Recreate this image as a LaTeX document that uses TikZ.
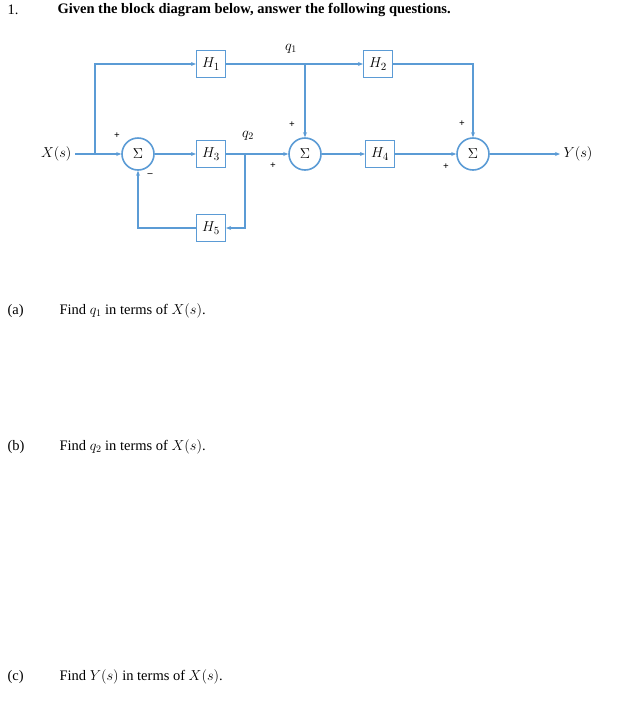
\documentclass[tikz,border=0pt]{standalone}
\usepackage{fontspec}
\setmainfont{Liberation Serif}
\usetikzlibrary{arrows.meta}
\definecolor{bl}{RGB}{91,155,213}
\begin{document}
\begin{tikzpicture}[x=1pt,y=-1pt,
  blk/.style={draw=bl,line width=1.2pt,minimum width=29pt,minimum height=27pt,inner sep=0pt,font=\fontsize{15}{16}\selectfont},
  sm/.style={draw=bl,circle,line width=1.6pt,minimum size=32pt,inner sep=0pt,font=\fontsize{15}{16}\selectfont},
  ln/.style={bl,line width=1.2pt},
  ar/.style={ln,-{Stealth[length=5pt,width=4pt]}},
  sg/.style={font=\bfseries\fontsize{10}{10}\selectfont},
  txt/.style={font=\fontsize{14.5}{16}\selectfont,anchor=west}]
\useasboundingbox (0,0) rectangle (621,721);
\node[txt] (n1) at (4,10) {1.};
\node[txt,font=\bfseries\fontsize{14.5}{16}\selectfont] (ti) at (54,10) {Given the block diagram below, answer the following questions.};
\node[blk] (H1) at (211,64) {$H_1$};
\node[blk] (H2) at (378,64) {$H_2$};
\node[blk] (H3) at (211,154) {$H_3$};
\node[blk] (H4) at (380,154) {$H_4$};
\node[blk] (H5) at (211,228) {$H_5$};
\node[sm] (S1) at (138,154) {$\Sigma$};
\node[sm] (S2) at (305,154) {$\Sigma$};
\node[sm] (S3) at (473,154) {$\Sigma$};
\node[font=\fontsize{15}{16}\selectfont,anchor=east] (X) at (75,154) {$X(s)$};
\node[font=\fontsize{15}{16}\selectfont,anchor=west] (Y) at (560,154) {$Y(s)$};
\coordinate (b0) at (95,154);
\coordinate (q1) at (305,64);
\coordinate (q2) at (245,154);
\draw[ar] (X.east) -- (S1);
\draw[ar] (b0) |- (H1);
\draw[ar] (S1) -- (H3);
\draw[ar] (H3) -- (S2);
\draw[ar] (q2) |- (H5);
\draw[ar] (H5) -| (S1);
\draw[ar] (H1) -- (H2);
\draw[ar] (q1) -- (S2);
\draw[ar] (S2) -- (H4);
\draw[ar] (H4) -- (S3);
\draw[ar] (H2) -| (S3);
\draw[ar] (S3) -- (Y.west);
\node[font=\fontsize{14}{14}\selectfont] (lq1) at (291,49) {$q_1$};
\node[font=\fontsize{14}{14}\selectfont] (lq2) at (248,136) {$q_2$};
\node[sg] (p1) at (117,136) {+};
\node[sg] (m1) at (150,175) {--};
\node[sg] (p2) at (292,125) {+};
\node[sg] (p3) at (273,166) {+};
\node[sg] (p4) at (462,124) {+};
\node[sg] (p5) at (446,167) {+};
\node[txt] (a) at (4,311) {(a)};
\node[txt] (fa) at (56,311) {Find $q_1$ in terms of $X(s)$.};
\node[txt] (b) at (4,447) {(b)};
\node[txt] (fb) at (56,447) {Find $q_2$ in terms of $X(s)$.};
\node[txt] (c) at (4,677) {(c)};
\node[txt] (fc) at (56,677) {Find $Y(s)$ in terms of $X(s)$.};
\end{tikzpicture}
\end{document}
